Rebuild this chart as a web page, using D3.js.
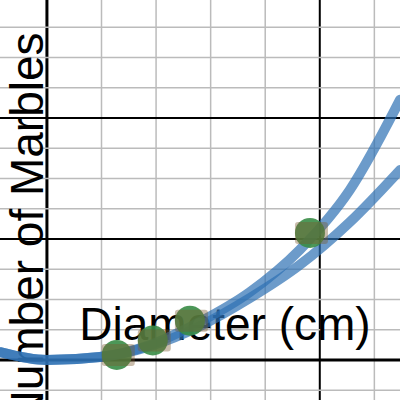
<!DOCTYPE html>
<meta charset="utf-8">
<style>body{margin:0}</style>
<svg width="400" height="400"></svg>
<script src="https://cdn.jsdelivr.net/npm/d3@7"></script>
<script>
// values in grid units
var curveX = [-0.86, 0, 0.97, 1.89, 2.80, 3.72, 4.63, 5.55, 6.47];
var upperY = [0.26, 0, 0.10, 0.50, 1.26, 2.25, 3.64, 5.62, 8.60];
var lowerY = [0.26, 0, 0.10, 0.46, 1.12, 2.05, 3.14, 4.56, 6.28];
var pointX = [1.28, 1.94, 2.62, 4.82];
var pointY = [0.17, 0.65, 1.3, 4.2];
var xLabel = 'Diameter (cm)';
var yLabel = 'Number of Marbles';

var svg = d3.select('svg');
var x = d3.scaleLinear().domain([-0.86, 6.47]).range([0, 400]);
var y = d3.scaleLinear().domain([-1.32, 11.9]).range([400, 0]);

var g = svg.append('g');
d3.range(-1, 8).forEach(function (i) {
    g.append('line').attr('x1', x(i)).attr('x2', x(i)).attr('y1', 0).attr('y2', 400)
        .attr('stroke', i % 5 === 0 ? '#000' : '#bbb')
        .attr('stroke-width', i === 0 ? 3 : (i % 5 === 0 ? 2 : 1.5));
});
d3.range(-1, 13).forEach(function (j) {
    g.append('line').attr('x1', 0).attr('x2', 400).attr('y1', y(j)).attr('y2', y(j))
        .attr('stroke', j % 4 === 0 ? '#000' : '#bbb')
        .attr('stroke-width', j === 0 ? 3 : (j % 4 === 0 ? 2 : 1.5));
});

svg.append('text').attr('x', 225).attr('y', 340).attr('text-anchor', 'middle')
    .attr('font-family', 'Liberation Sans, Arial').attr('font-size', 46).text(xLabel);
svg.append('text').attr('transform', 'translate(43,228) rotate(-90)').attr('text-anchor', 'middle')
    .attr('font-family', 'Liberation Sans, Arial').attr('font-size', 46).text(yLabel);

var line = d3.line().curve(d3.curveMonotoneX)
    .x(function (d) { return x(d[0]); }).y(function (d) { return y(d[1]); });
[upperY, lowerY].forEach(function (ys) {
    svg.append('path').attr('d', line(d3.zip(curveX, ys)))
        .attr('fill', 'none').attr('stroke', '#2d70b3').attr('stroke-opacity', 0.7)
        .attr('stroke-width', 10).attr('stroke-linecap', 'round');
});

var pts = d3.zip(pointX, pointY);
svg.selectAll('.pt').data(pts).enter().append('circle')
    .attr('cx', function (d) { return x(d[0]); }).attr('cy', function (d) { return y(d[1]); })
    .attr('r', 15).attr('fill', '#388c46').attr('fill-opacity', 0.9);
svg.selectAll('.rc').data(pts).enter().append('rect')
    .attr('x', function (d) { return x(d[0]) - 15; }).attr('y', function (d) { return y(d[1]) - 11; })
    .attr('width', 33).attr('height', 22).attr('rx', 3)
    .attr('fill', '#7a5a30').attr('fill-opacity', 0.4);
</script>
